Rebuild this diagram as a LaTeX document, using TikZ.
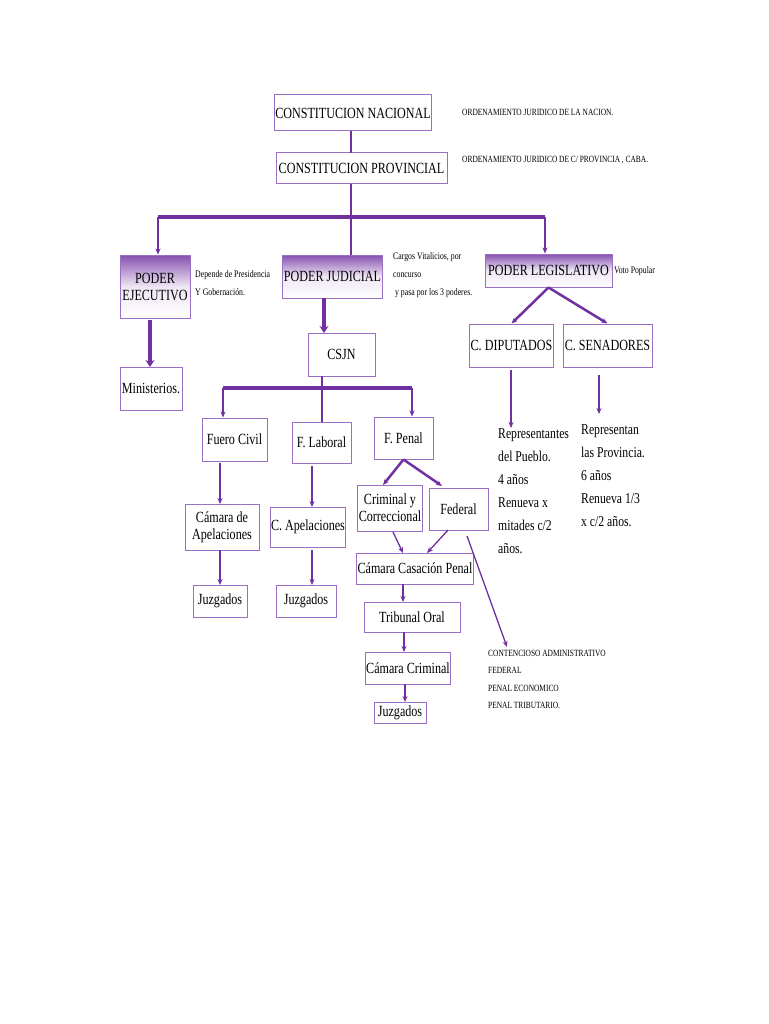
\documentclass[tikz,border=0pt]{standalone}
\usepackage{fontspec}
\setmainfont{Liberation Serif}[FakeStretch=0.78]
\usetikzlibrary{arrows.meta}
\definecolor{pur}{HTML}{7030A0}
\definecolor{pbd}{HTML}{9B6FC4}
\begin{document}
\begin{tikzpicture}[x=1pt,y=-1pt,
  box/.style={draw=pbd,line width=1pt,fill=white,inner sep=1pt,align=center,font=\fontsize{15.5}{17}\selectfont},
  gbox/.style={box,draw=pbd,top color=pur!85,bottom color=white,middle color=pur!12},
  note/.style={anchor=north west,align=left,inner sep=0pt,font=\fontsize{10}{18}\selectfont},
  big/.style={anchor=north west,align=left,inner sep=0pt,font=\fontsize{15}{23}\selectfont},
  ln/.style={draw=pur,line width=1.3pt},
  ar/.style={ln,-{Stealth[length=6pt,width=5pt]}},
  thk/.style={draw=pur,line width=4pt},
  tar/.style={draw=pur,line width=4pt,-{Stealth[length=7pt,width=9pt]}}]
\useasboundingbox (0,0) rectangle (768,1024);
\def\bx#1#2#3#4#5#6#7{\node[#1,minimum width=#4-#2,minimum height=#5-#3] (#6) at ({(#2+#4)/2},{(#3+#5)/2}) {#7};}
\bx{box}{276}{95}{430}{131}{cn}{CONSTITUCION NACIONAL}
\bx{box}{276}{153}{447}{184}{cp}{CONSTITUCION PROVINCIAL}
\node[note,font=\fontsize{9.5}{11}\selectfont] (n1) at (462,109) {ORDENAMIENTO JURIDICO DE LA NACION.};
\node[note,font=\fontsize{9.5}{11}\selectfont] (n2) at (462,156) {ORDENAMIENTO JURIDICO DE C/ PROVINCIA , CABA.};
\bx{gbox}{120}{255}{190}{318}{pe}{PODER\\EJECUTIVO}
\bx{gbox}{283}{255}{382}{298}{pj}{PODER JUDICIAL}
\bx{gbox}{485}{254}{612}{287}{pl}{PODER LEGISLATIVO}
\node[note] (n3) at (195,270) {Depende de Presidencia\\Y Gobernación.};
\node[note] (n4) at (393,252) {Cargos Vitalicios, por\\concurso\\\ y pasa por los 3 poderes.};
\node[note] (n5) at (614,266) {Voto Popular};
\coordinate (bl) at (158,217); \coordinate (bm) at (351,217); \coordinate (br) at (545,217);
\coordinate (c1) at (351,131); \coordinate (c2) at (351,153); \coordinate (c3) at (351,184); \coordinate (c4) at (351,255);
\draw[ln] (c1) -- (c2);
\draw[ln] (c3) -- (bm);
\draw[thk] (bl) -- (br);
\draw[ar] (bl) -- (bl|-pe.north);
\draw[ar] (br) -- (br|-pl.north);
\draw[ln] (bm) -- (c4);
\bx{box}{120}{367}{182}{410}{mi}{Ministerios.}
\bx{box}{308}{333}{375}{376}{cs}{CSJN}
\coordinate (p1) at (324,298); \coordinate (p2) at (324,333);
\draw[tar] (150,320) -- (150,367);
\draw[tar] (p1) -- (p2);
\bx{box}{473}{324}{550}{367}{cd}{C. DIPUTADOS}
\bx{box}{563}{324}{652}{367}{se}{C. SENADORES}
\draw[ar,line width=2.5pt] (pl.south) -- (cd.north);
\draw[ar,line width=2.5pt] (pl.south) -- (se.north);
\coordinate (cl) at (223,388); \coordinate (cm) at (322,388); \coordinate (cr) at (412,388);
\bx{box}{202}{418}{267}{461}{fc}{Fuero Civil}
\bx{box}{292}{422}{351}{463}{fl}{F. Laboral}
\bx{box}{374}{417}{433}{459}{fp}{F. Penal}
\draw[ln] (322,376) -- (cm);
\draw[thk] (cl) -- (cr);
\draw[ar] (cl) -- (cl|-fc.north);
\draw[ar] (cr) -- (cr|-fp.north);
\draw[ln] (cm) -- (322,422);
\bx{box}{185}{504}{259}{550}{ca}{Cámara de\\Apelaciones}
\bx{box}{193}{585}{247}{617}{j1}{Juzgados}
\bx{box}{273}{507}{343}{547}{ap}{C. Apelaciones}
\bx{box}{276}{585}{336}{617}{j2}{Juzgados}
\draw[ar] (220,463) -- (220,504);
\draw[ar] (220,550) -- (220,585);
\draw[ar] (312,466) -- (312,507);
\draw[ar] (312,550) -- (312,585);
\bx{box}{358}{485}{422}{531}{cc}{Criminal y\\Correccional}
\bx{box}{429}{488}{488}{530}{fe}{Federal}
\draw[ar,line width=2.5pt] (fp.south) -- (383,485);
\draw[ar,line width=2.5pt] (fp.south) -- (442,486);
\bx{box}{360}{553}{470}{584}{cas}{Cámara Casación Penal}
\bx{box}{364}{602}{460}{632}{to}{Tribunal Oral}
\bx{box}{367}{652}{449}{684}{cam}{Cámara Criminal}
\bx{box}{374}{702}{426}{723}{j3}{Juzgados}
\draw[ar] (393,532) -- (403,553);
\draw[ar] (448,530) -- (427,553);
\draw[ar] (403,584) -- (403,602);
\draw[ar] (404,632) -- (404,652);
\draw[ar] (405,684) -- (405,702);
\draw[ar] (467,536) -- (507,647);
\node[note,font=\fontsize{9.5}{17.3}\selectfont] (n6) at (488,650) {CONTENCIOSO ADMINISTRATIVO\\FEDERAL\\PENAL ECONOMICO\\PENAL TRIBUTARIO.};
\draw[ar] (511,370) -- (511,428);
\draw[ar] (599,375) -- (599,414);
\node[big] (t1) at (498,428) {Representantes\\del Pueblo.\\4 años\\Renueva x\\mitades c/2\\años.};
\node[big] (t2) at (581,424) {Representan\\las Provincia.\\6 años\\Renueva 1/3\\x c/2 años.};
\end{tikzpicture}
\end{document}
